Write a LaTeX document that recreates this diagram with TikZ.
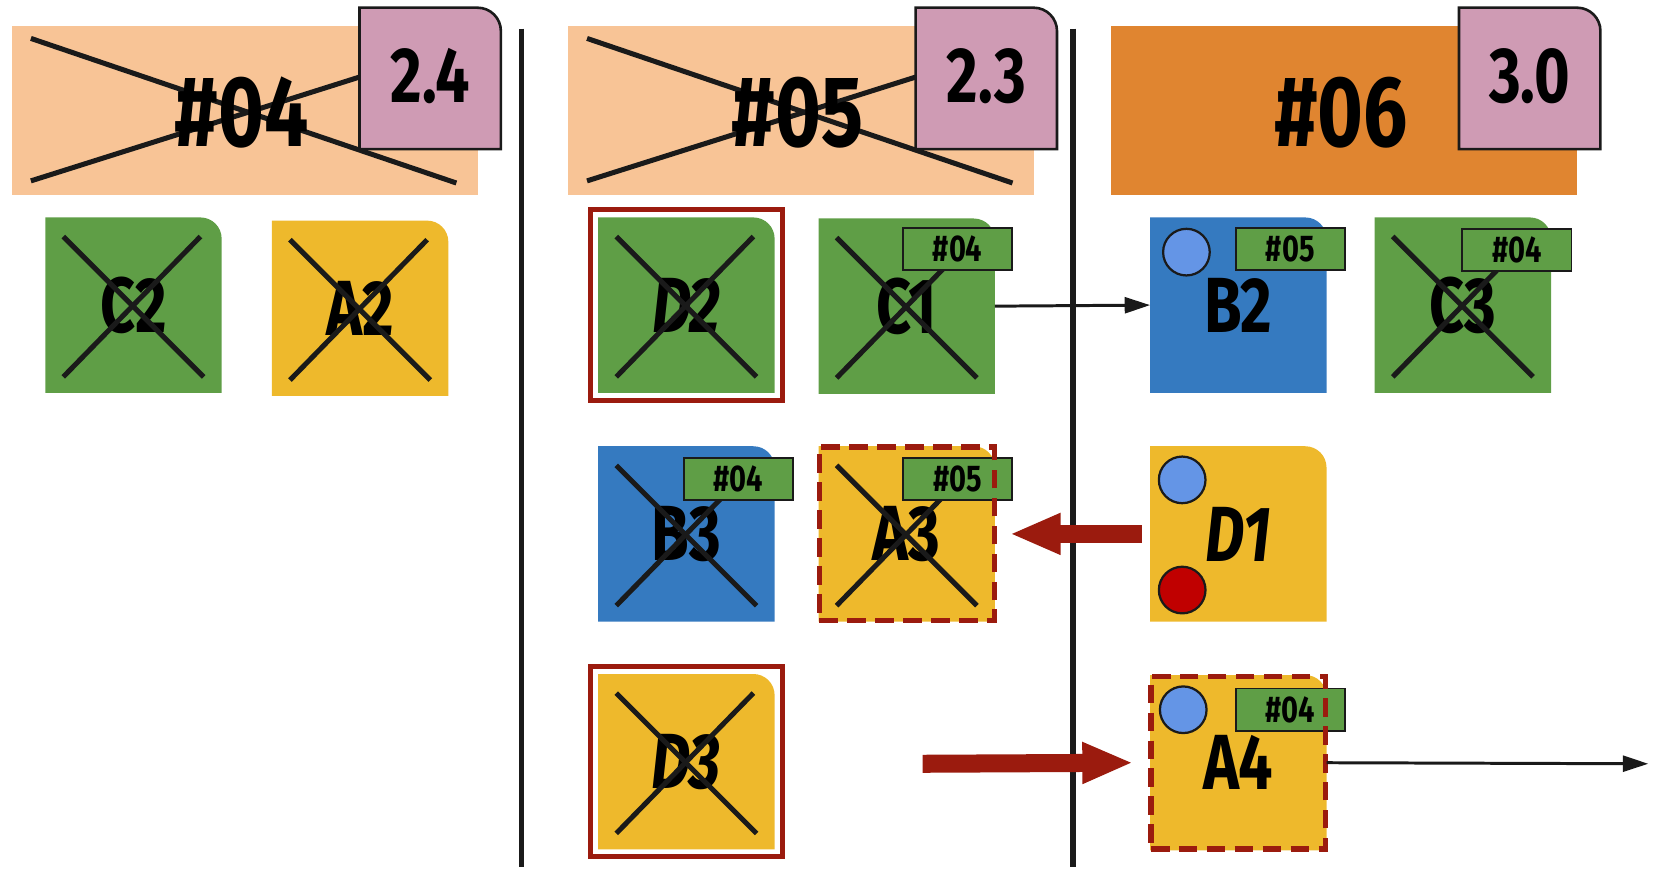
\documentclass[tikz,border=0pt]{standalone}
\usepackage{fontspec}
\setmainfont{Fira Sans}[FakeStretch=0.78]
\usetikzlibrary{arrows.meta,calc}
\definecolor{hdr}{HTML}{F8C496}
\definecolor{hdrB}{HTML}{E08530}
\definecolor{pink}{HTML}{CF9BB4}
\definecolor{grn}{HTML}{5F9E46}
\definecolor{yel}{HTML}{EEB92C}
\definecolor{blu}{HTML}{357AC0}
\definecolor{lblu}{HTML}{6495E6}
\definecolor{dred}{HTML}{9B1B0E}
\definecolor{rdot}{HTML}{C00000}
\definecolor{ink}{HTML}{1A1A1A}
\tikzset{
  box/.style={inner sep=0,minimum width=1.65cm,minimum height=1.64cm},
  lbl/.style={font=\fontsize{21}{21}\bfseries},
  xline/.style={ink,line width=1.35pt},
  tag/.style={draw=ink,fill=grn,line width=0.5pt,minimum width=1.03cm,minimum height=0.40cm,inner sep=0,font=\fontsize{10}{10}\bfseries},
  dot/.style={circle,draw=ink,line width=0.6pt,minimum size=0.44cm,inner sep=0},
  frame/.style={draw=dred,line width=1.4pt},
  dframe/.style={draw=dred,line width=1.4pt,dash pattern=on 5pt off 2.5pt},
  big/.style={-{Triangle[length=0.48cm,width=0.36cm]},dred,line width=0.17cm},
  thin/.style={-{Triangle[length=0.24cm,width=0.15cm]},ink,line width=0.8pt},
  sep/.style={ink,line width=1.4pt},
}
\newcommand\rshape[2]{\fill[#2] (#1.south west) -- (#1.north west) {[rounded corners=0.2cm] -- (#1.north east)} -- (#1.south east) -- cycle;}
\newcommand\card[5]{\node[box] (#1) at (#2) {};\rshape{#1}{#3}\node[lbl] (#1t) at (#1) {#4};
  \ifx#5y\draw[xline] ([shift={(17,18)}]#1.north west) -- ([shift={(-17,-15)}]#1.south east);
  \draw[xline] ([shift={(17,-15)}]#1.south west) -- ([shift={(-20,18)}]#1.north east);\fi}
\newcommand\header[6]{\node[inner sep=0,minimum width=4.38cm,minimum height=1.58cm] (#1) at (#2) {};\fill[#3] (#1.south west) rectangle (#1.north east);
  \node[inner sep=0,minimum width=1.32cm,minimum height=1.32cm,anchor=north east] (#1p) at ([shift={(22,-17)}]#1.north east) {};
  \ifx#6y\draw[xline] ([shift={(18,12)}]#1.north west) -- ([shift={(-20,-11)}]#1.south east);
  \draw[xline] ([shift={(18,-13)}]#1.south west) -- ([shift={(0,-68)}]#1p.south west);\fi
  \filldraw[fill=pink,draw=ink,line width=0.7pt] (#1p.south west) -- (#1p.north west) {[rounded corners=0.22cm] -- (#1p.north east)} -- (#1p.south east) -- cycle;
  \node[font=\fontsize{27}{27}\bfseries] at ([shift={(-3,2)}]#1.center) {#4};
  \node[font=\fontsize{21}{21}\bfseries] at ([shift={(0,-2)}]#1p.center) {#5};}
\begin{document}
\begin{tikzpicture}[x=0.01cm,y=-0.01cm]
\useasboundingbox (0,0) rectangle (1568,829);
\draw[sep] (492,27) coordinate (s1a) -- (492,818) coordinate (s1b);
\draw[sep] (1013,27) coordinate (s2a) -- (1013,818) coordinate (s2b);
\header{h4}{231,104}{hdr}{\#04}{2.4}{y}
\header{h5}{756,104}{hdr}{\#05}{2.3}{y}
\header{h6}{1269,104}{hdrB}{\#06}{3.0}{n}
% column 1
\card{c2}{126,288}{grn}{C2}{y}
\card{a2}{340,291}{yel}{A2}{y}
% column 2
\card{d2}{648,288}{grn}{\itshape D2}{y}
\node[frame,minimum width=1.81cm,minimum height=1.80cm,inner sep=0] at (648,288) {};
\card{c1}{856,289}{grn}{C1}{y}
\node[tag] (c1g) at (904,235) {\#04};
\card{b3}{648,504}{blu}{B3}{y}
\node[tag] (b3g) at (697,452) {\#04};
\card{a3}{856,504}{yel}{A3}{y}
\node[tag] (a3g) at (904,452) {\#05};
\node[dframe,minimum width=1.65cm,minimum height=1.64cm,inner sep=0] at (a3) {};
\card{d3}{648,719}{yel}{\itshape D3}{y}
\node[frame,minimum width=1.81cm,minimum height=1.79cm,inner sep=0] at (648,719) {};
% column 3
\card{b2}{1169,288}{blu}{B2}{n}
\node[dot,fill=lblu] (b2d) at (1120,238) {};
\node[tag] (b2g) at (1218,235) {\#05};
\card{c3}{1381,288}{grn}{C3}{y}
\node[tag] (c3g) at (1432,236) {\#04};
\card{d1}{1169,504}{yel}{\itshape D1}{n}
\node[dot,fill=lblu] (d1a) at (1116,453) {};
\node[dot,fill=rdot] (d1b) at (1116,557) {};
\card{a4}{1169,720}{yel}{A4}{n}
\node[dot,fill=lblu] (a4d) at (1117,670) {};
\node[tag] (a4g) at (1218,670) {\#04};
\node[dframe,minimum width=1.65cm,minimum height=1.63cm,inner sep=0] at (a4) {};
\coordinate (out) at (1556,721);
\coordinate (rs) at (871,721);
% connectors
\draw[thin] (c1.east) -- (b2.west);
\draw[big] ([xshift=-0.08cm]d1.west) -- ([xshift=0.14cm]a3.east);
\draw[big] (rs) -- ([xshift=-0.16cm]a4.west);
\draw[thin] (a4.east) -- (out);
\end{tikzpicture}
\end{document}
